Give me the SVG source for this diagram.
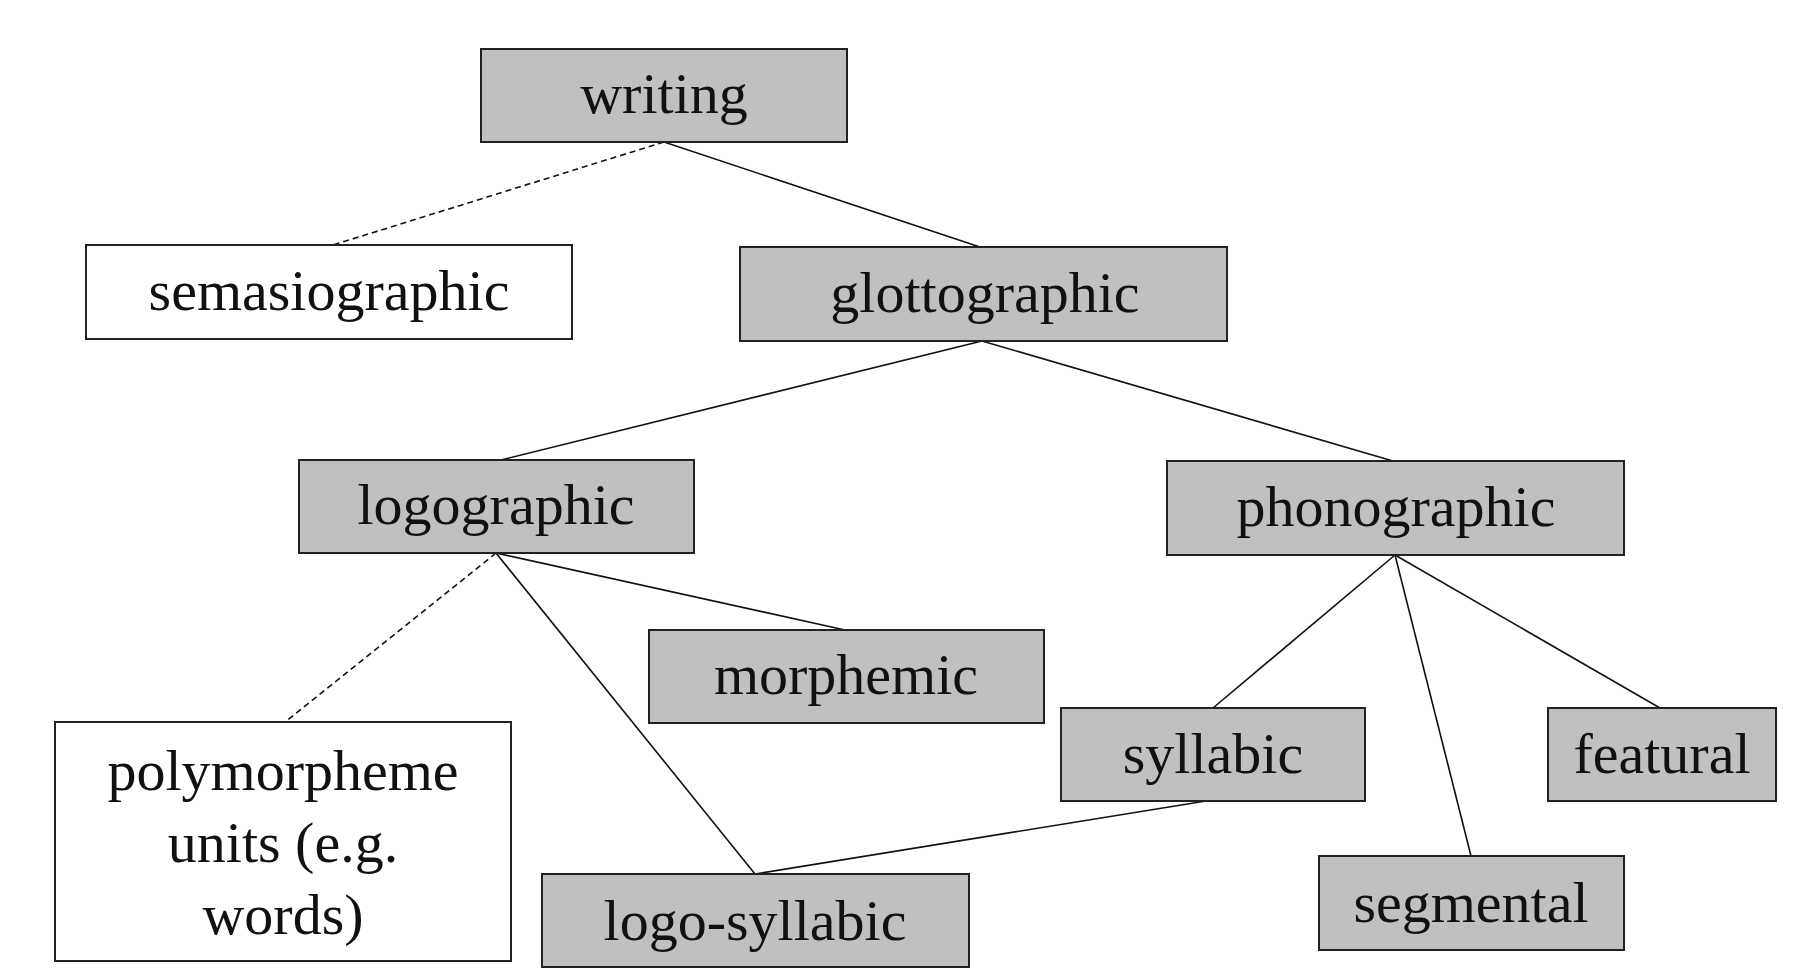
<svg xmlns="http://www.w3.org/2000/svg" width="1793" height="971" viewBox="0 0 1793 971">
<style>
rect{stroke:#222;stroke-width:2}
.g{fill:#c0c0c0}.w{fill:#fff}
text{font-family:"Liberation Serif",serif;font-size:58px;fill:#111;text-anchor:middle}
#connectors line{stroke:#111;stroke-width:1.6}
.d{stroke-dasharray:6 4}
</style>
<rect width="1793" height="971" fill="#fff" style="stroke:none"/>
<g id="connectors">
<line x1="664" y1="142" x2="980" y2="247"/>
<line class="d" x1="664" y1="142" x2="333" y2="245"/>
<line x1="982" y1="341" x2="501" y2="460"/>
<line x1="982" y1="341" x2="1393" y2="461"/>
<line class="d" x1="496" y1="553" x2="285" y2="722"/>
<line x1="496" y1="553" x2="845" y2="630"/>
<line x1="496" y1="553" x2="755" y2="874"/>
<line x1="1395" y1="555" x2="1213" y2="708"/>
<line x1="1395" y1="555" x2="1471" y2="856"/>
<line x1="1395" y1="555" x2="1660" y2="708"/>
<line x1="1206" y1="801" x2="755" y2="874"/>
</g>
<g id="writing"><rect class="g" x="481" y="49" width="366" height="93"/><text x="664" y="113">writing</text></g>
<g id="semasiographic"><rect class="w" x="86" y="245" width="486" height="94"/><text x="329" y="310">semasiographic</text></g>
<g id="glottographic"><rect class="g" x="740" y="247" width="487" height="94"/><text x="985" y="312">glottographic</text></g>
<g id="logographic"><rect class="g" x="299" y="460" width="395" height="93"/><text x="496" y="524">logographic</text></g>
<g id="phonographic"><rect class="g" x="1167" y="461" width="457" height="94"/><text x="1396" y="526">phonographic</text></g>
<g id="morphemic"><rect class="g" x="649" y="630" width="395" height="93"/><text x="846" y="694">morphemic</text></g>
<g id="polymorpheme"><rect class="w" x="55" y="722" width="456" height="239"/><text x="283" y="790">polymorpheme</text><text x="283" y="862">units (e.g.</text><text x="283" y="934">words)</text></g>
<g id="syllabic"><rect class="g" x="1061" y="708" width="304" height="93"/><text x="1213" y="773">syllabic</text></g>
<g id="featural"><rect class="g" x="1548" y="708" width="228" height="93"/><text x="1662" y="773">featural</text></g>
<g id="logo-syllabic"><rect class="g" x="542" y="874" width="427" height="93"/><text x="755" y="940">logo-syllabic</text></g>
<g id="segmental"><rect class="g" x="1319" y="856" width="305" height="94"/><text x="1471" y="922">segmental</text></g>
</svg>
